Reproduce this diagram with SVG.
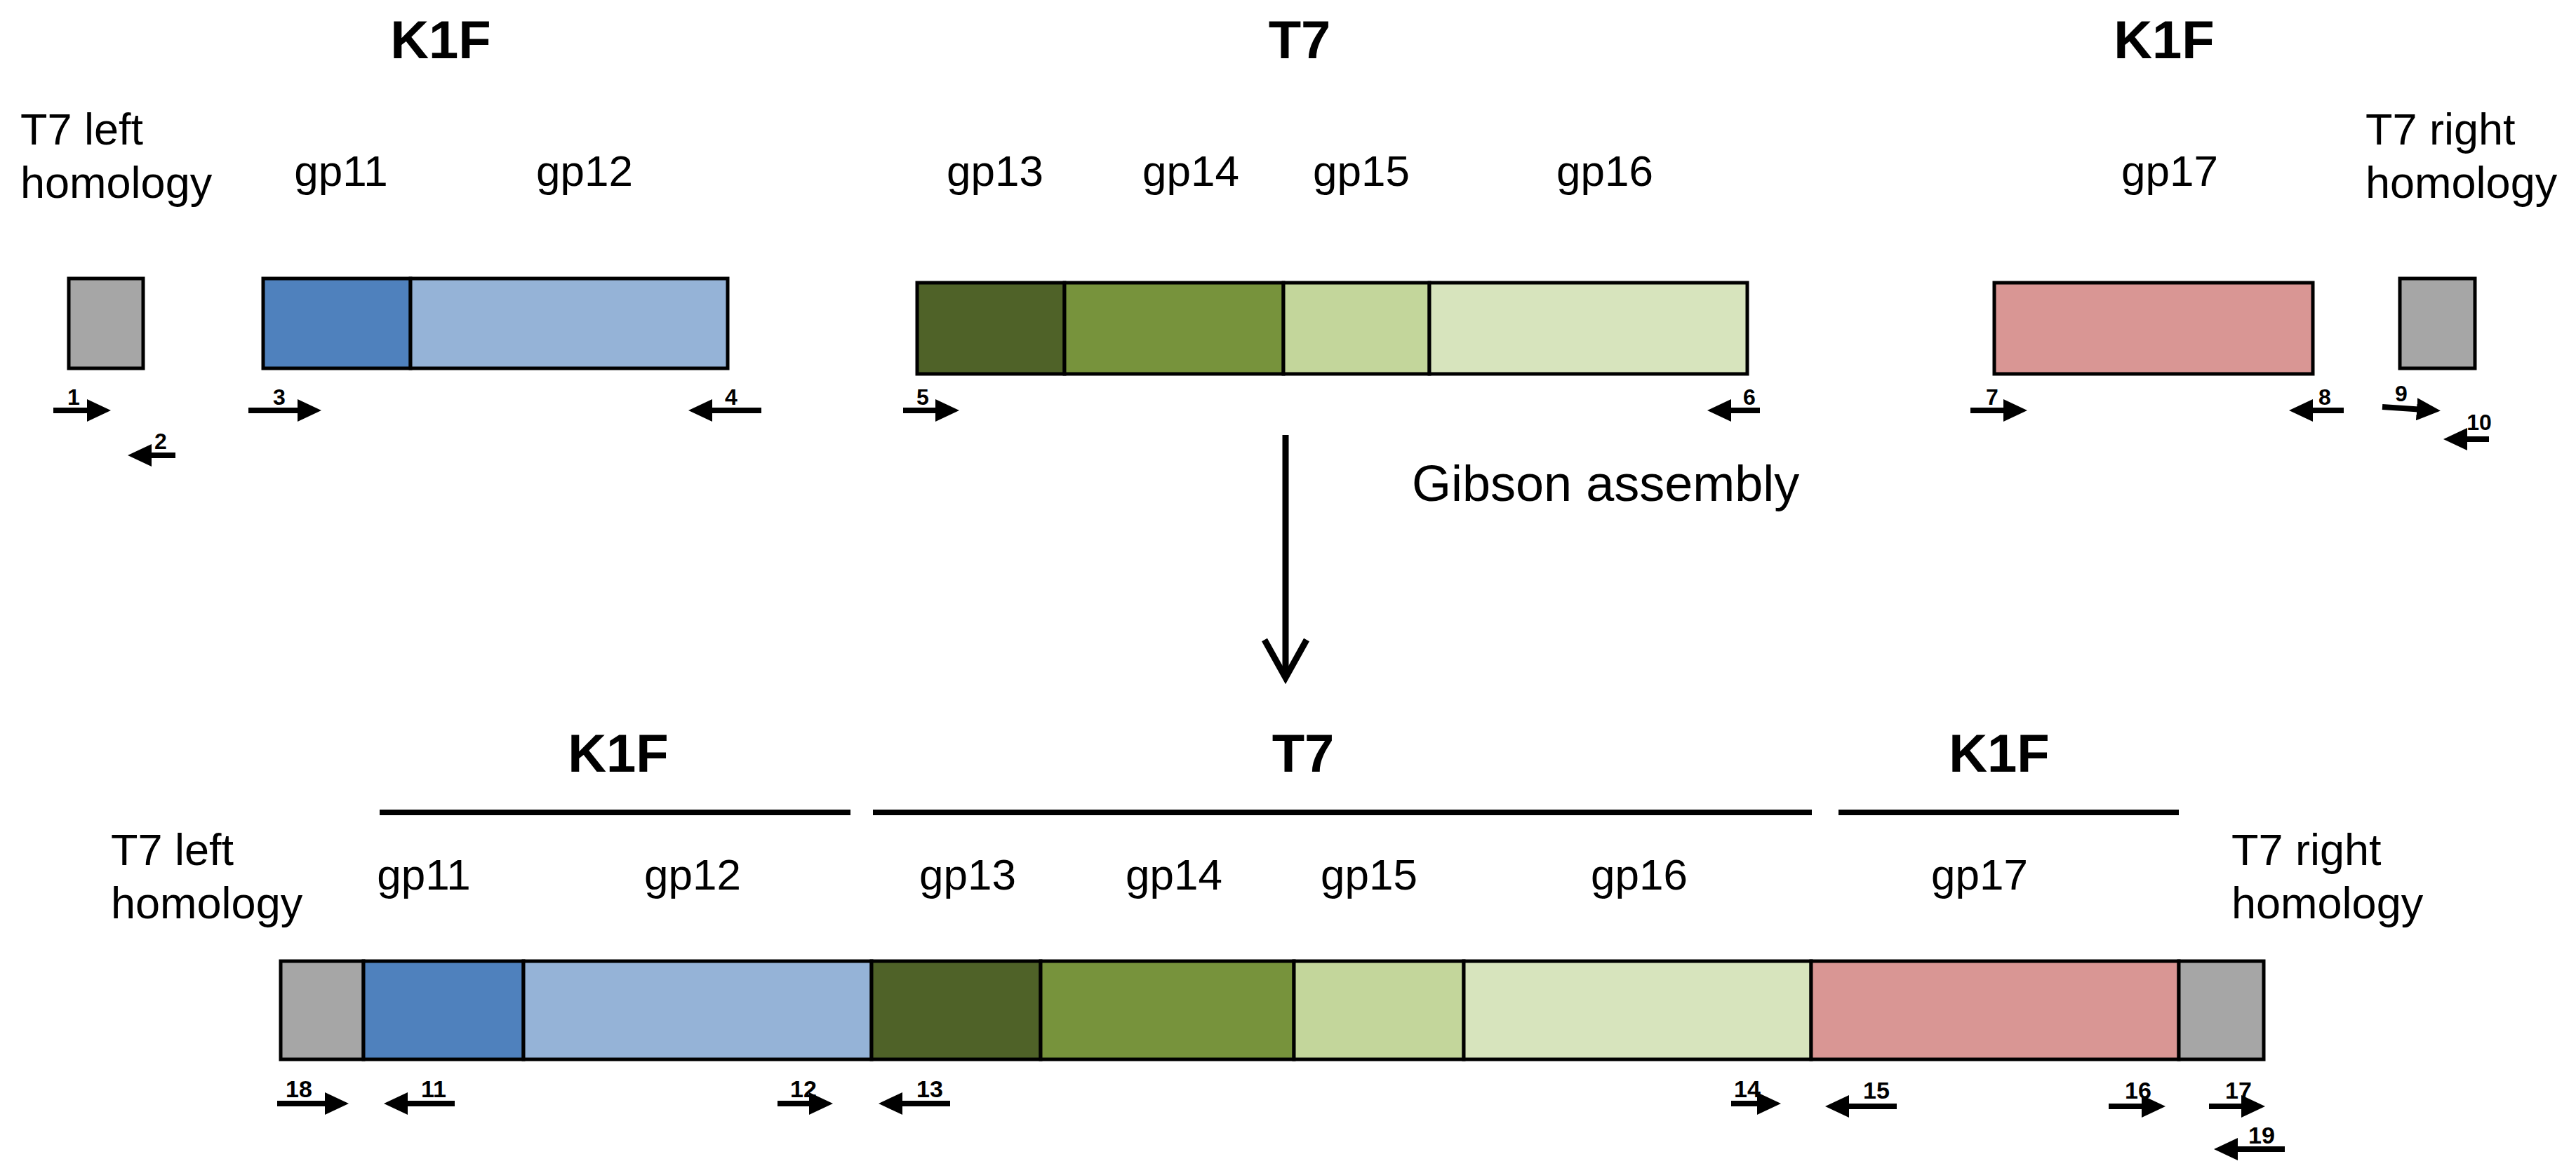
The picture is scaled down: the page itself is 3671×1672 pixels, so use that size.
<svg xmlns="http://www.w3.org/2000/svg" width="3671" height="1672" viewBox="0 0 3671 1672">
<style>
.lbl{font-family:"Liberation Sans",Arial,sans-serif;font-size:63px;fill:#000}
.gp{font-family:"Liberation Sans",Arial,sans-serif;font-size:62px;fill:#000;text-anchor:middle}
.hd{font-family:"Liberation Sans",Arial,sans-serif;font-size:76px;font-weight:bold;fill:#000;text-anchor:middle}
.num{font-family:"Liberation Sans",Arial,sans-serif;font-size:32px;font-weight:bold;fill:#000;text-anchor:middle}
.numb{font-family:"Liberation Sans",Arial,sans-serif;font-size:34px;font-weight:bold;fill:#000;text-anchor:middle}
.seg{stroke:#000;stroke-width:5}
.gray{fill:#a6a6a6}.b1{fill:#4f81bd}.b2{fill:#95b3d7}
.g1{fill:#4f6228}.g2{fill:#77933c}.g3{fill:#c3d69b}.g4{fill:#d7e4bd}.pk{fill:#d99694}
.pr{stroke:#000;stroke-width:8;fill:none;marker-end:url(#ah)}
.bar{stroke:#000;stroke-width:8}
</style>
<defs>
<marker id="ah" markerUnits="userSpaceOnUse" markerWidth="36" markerHeight="32" refX="10" refY="16" orient="auto">
<path d="M0,0 L34,16 L0,32 Z" fill="#000"/>
</marker>
</defs>
<rect width="3671" height="1672" fill="#fff"/>

<!-- top row -->
<g id="top-left-homology">
<text class="lbl" x="29" y="206">T7 left</text>
<text class="lbl" x="29" y="282">homology</text>
<rect class="seg gray" x="98" y="397" width="106" height="128"/>
</g>
<g id="top-k1f-left">
<text class="hd" x="628" y="83">K1F</text>
<text class="gp" x="486" y="265">gp11</text>
<text class="gp" x="833" y="265">gp12</text>
<rect class="seg b1" x="375" y="397" width="210" height="128"/>
<rect class="seg b2" x="585" y="397" width="452" height="128"/>
</g>
<g id="top-t7">
<text class="hd" x="1852" y="83">T7</text>
<text class="gp" x="1418" y="265">gp13</text>
<text class="gp" x="1697" y="265">gp14</text>
<text class="gp" x="1940" y="265">gp15</text>
<text class="gp" x="2287" y="265">gp16</text>
<rect class="seg g1" x="1307" y="403" width="210" height="130"/>
<rect class="seg g2" x="1517" y="403" width="312" height="130"/>
<rect class="seg g3" x="1829" y="403" width="208" height="130"/>
<rect class="seg g4" x="2037" y="403" width="453" height="130"/>
</g>
<g id="top-k1f-right">
<text class="hd" x="3084" y="83">K1F</text>
<text class="gp" x="3092" y="265">gp17</text>
<rect class="seg pk" x="2842" y="403" width="454" height="130"/>
</g>
<g id="top-right-homology">
<text class="lbl" x="3371" y="206">T7 right</text>
<text class="lbl" x="3371" y="282">homology</text>
<rect class="seg gray" x="3420" y="397" width="107" height="128"/>
</g>

<!-- bottom row -->
<g id="bottom-headers">
<text class="hd" x="881" y="1100">K1F</text>
<text class="hd" x="1857" y="1100">T7</text>
<text class="hd" x="2849" y="1100">K1F</text>
<line class="bar" x1="541" y1="1158" x2="1212" y2="1158"/>
<line class="bar" x1="1244" y1="1158" x2="2582" y2="1158"/>
<line class="bar" x1="2620" y1="1158" x2="3105" y2="1158"/>
</g>
<g id="bottom-labels">
<text class="lbl" x="158" y="1233">T7 left</text>
<text class="lbl" x="158" y="1309">homology</text>
<text class="gp" x="604" y="1268">gp11</text>
<text class="gp" x="987" y="1268">gp12</text>
<text class="gp" x="1379" y="1268">gp13</text>
<text class="gp" x="1673" y="1268">gp14</text>
<text class="gp" x="1951" y="1268">gp15</text>
<text class="gp" x="2336" y="1268">gp16</text>
<text class="gp" x="2821" y="1268">gp17</text>
<text class="lbl" x="3180" y="1233">T7 right</text>
<text class="lbl" x="3180" y="1309">homology</text>
</g>
<g id="assembled">
<rect class="seg gray" x="400" y="1370" width="118" height="140"/>
<rect class="seg b1" x="518" y="1370" width="228" height="140"/>
<rect class="seg b2" x="746" y="1370" width="496" height="140"/>
<rect class="seg g1" x="1242" y="1370" width="241" height="140"/>
<rect class="seg g2" x="1483" y="1370" width="361" height="140"/>
<rect class="seg g3" x="1844" y="1370" width="242" height="140"/>
<rect class="seg g4" x="2086" y="1370" width="495" height="140"/>
<rect class="seg pk" x="2581" y="1370" width="524" height="140"/>
<rect class="seg gray" x="3105" y="1370" width="121" height="140"/>
</g>

<!-- connectors -->
<g id="connectors">
<line x1="1832" y1="620" x2="1832" y2="964" stroke="#000" stroke-width="9"/>
<polyline points="1802,912 1832,966 1862,912" fill="none" stroke="#000" stroke-width="9" stroke-linejoin="miter"/>
<text class="lbl" x="2012" y="714" style="font-size:72px">Gibson assembly</text>

<!-- top primers -->
<line class="pr" x1="76" y1="585" x2="134" y2="585"/><text class="num" x="105" y="577">1</text>
<line class="pr" x1="250" y1="649" x2="206" y2="649"/><text class="num" x="229" y="640">2</text>
<line class="pr" x1="354" y1="585" x2="434" y2="585"/><text class="num" x="398" y="577">3</text>
<line class="pr" x1="1085" y1="585" x2="1005" y2="585"/><text class="num" x="1042" y="577">4</text>
<line class="pr" x1="1287" y1="585" x2="1343" y2="585"/><text class="num" x="1315" y="577">5</text>
<line class="pr" x1="2508" y1="585" x2="2457" y2="585"/><text class="num" x="2493" y="577">6</text>
<line class="pr" x1="2808" y1="585" x2="2865" y2="585"/><text class="num" x="2839" y="577">7</text>
<line class="pr" x1="3340" y1="585" x2="3286" y2="585"/><text class="num" x="3313" y="577">8</text>
<line class="pr" x1="3395" y1="580" x2="3454" y2="584"/><text class="num" x="3422" y="572">9</text>
<line class="pr" x1="3547" y1="626" x2="3506" y2="626"/><text class="num" x="3533" y="613">10</text>

<!-- bottom primers -->
<line class="pr" x1="395" y1="1573" x2="473" y2="1573"/><text class="numb" x="426" y="1564">18</text>
<line class="pr" x1="648" y1="1573" x2="571" y2="1573"/><text class="numb" x="618" y="1564">11</text>
<line class="pr" x1="1108" y1="1573" x2="1163" y2="1573"/><text class="numb" x="1145" y="1564">12</text>
<line class="pr" x1="1354" y1="1573" x2="1276" y2="1573"/><text class="numb" x="1325" y="1564">13</text>
<line class="pr" x1="2467" y1="1573" x2="2514" y2="1573"/><text class="numb" x="2490" y="1564">14</text>
<line class="pr" x1="2703" y1="1577" x2="2625" y2="1577"/><text class="numb" x="2674" y="1566">15</text>
<line class="pr" x1="3005" y1="1577" x2="3062" y2="1577"/><text class="numb" x="3047" y="1566">16</text>
<line class="pr" x1="3148" y1="1577" x2="3204" y2="1577"/><text class="numb" x="3190" y="1566">17</text>
<line class="pr" x1="3256" y1="1638" x2="3179" y2="1638"/><text class="numb" x="3223" y="1630">19</text>
</g>
</svg>
